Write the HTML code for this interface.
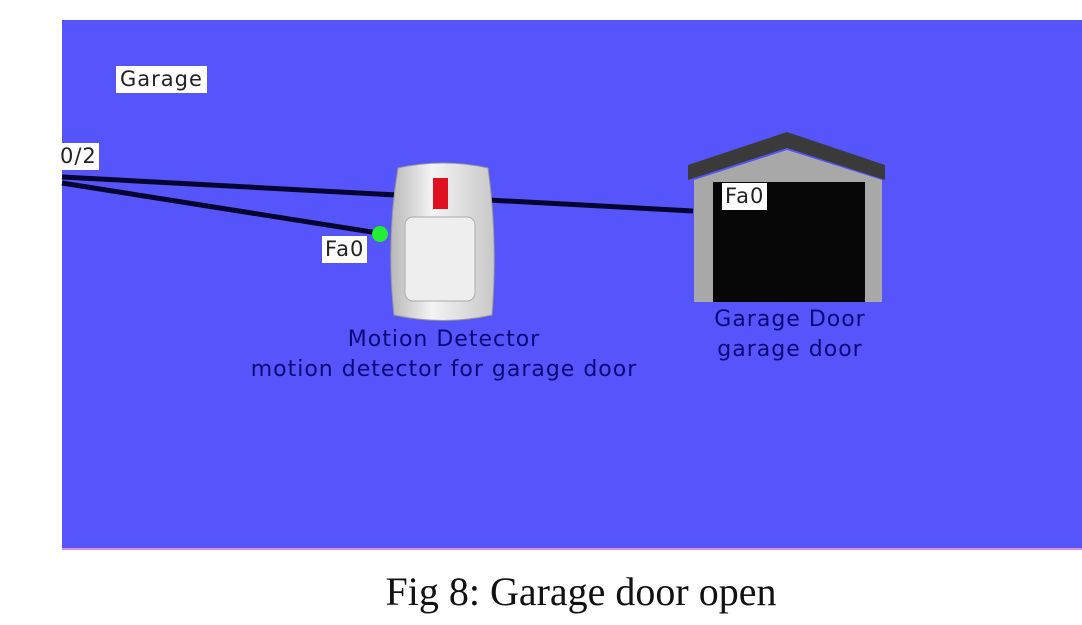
<!DOCTYPE html>
<html><head><style>
body{margin:0;width:1082px;height:625px;background:#fff;position:relative;overflow:hidden;font-family:"DejaVu Sans","Liberation Sans",sans-serif}
.bg{position:absolute;left:62px;top:20px;width:1020px;height:528px;background:#5555fb;border-bottom:2px solid #d890e0}
.lbl{position:absolute;background:#fff;color:#222;font-size:21px;line-height:27px;padding:0 4px;letter-spacing:1px}
.cap{position:absolute;color:#0a0a7a;font-size:22px;text-align:center;line-height:30px;letter-spacing:1px;white-space:nowrap}
</style></head><body>
<div class="bg"></div>
<svg width="1082" height="625" style="position:absolute;left:0;top:0">
<line x1="62" y1="177" x2="693" y2="211" stroke="#050530" stroke-width="5"/>
<line x1="62" y1="183" x2="378" y2="233" stroke="#050530" stroke-width="5"/>
<circle cx="380" cy="234" r="8" fill="#22ee33"/>
<defs><linearGradient id="g" x1="0" x2="1"><stop offset="0" stop-color="#b8b8b8"/><stop offset="0.4" stop-color="#f4f4f4"/><stop offset="1" stop-color="#c8c8c8"/></linearGradient></defs>
<path d="M398 168 Q443 158 488 168 Q498 240 492 315 Q443 326 394 315 Q386 240 398 168Z" fill="url(#g)" stroke="#999" stroke-width="1"/>
<rect x="433" y="178" width="15" height="31" fill="#e01020"/>
<rect x="405" y="217" width="70" height="84" rx="8" fill="#eee" stroke="#aaa"/>
<polygon points="688,165 787,132 885,165 885,180 787,148 688,180" fill="#3a3a3a"/>
<polygon points="694,180 787,150 882,180 882,302 694,302" fill="#a8a8a8"/>
<rect x="713" y="182" width="152" height="120" fill="#070707"/>
</svg>
<div class="lbl" style="left:116px;top:66px">Garage</div>
<div class="lbl" style="left:60px;top:143px;padding:0 2px 0 0">0/2</div>
<div class="lbl" style="left:322px;top:236px;padding:0 3px">Fa0</div>
<div class="lbl" style="left:722px;top:183px;padding:0 3px">Fa0</div>
<div class="cap" style="left:194px;top:325px;width:500px">Motion Detector<br>motion detector for garage door</div>
<div class="cap" style="left:690px;top:305px;width:200px">Garage Door<br>garage door</div>
<div style="position:absolute;left:0;width:1162px;top:568px;text-align:center;font-family:'Liberation Serif',serif;font-size:40px;color:#111">Fig 8: Garage door open</div>
</body></html>
